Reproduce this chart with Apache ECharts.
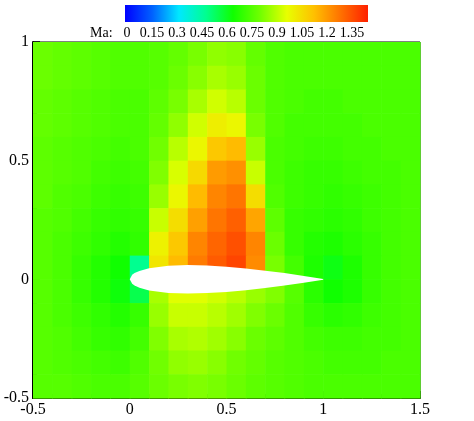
<!DOCTYPE html>
<html><head><meta charset="utf-8">
<script src="https://cdn.jsdelivr.net/npm/echarts@6/dist/echarts.min.js"></script>
<style>html,body{margin:0;padding:0;background:#fff}#c{width:474px;height:421px}</style>
</head><body><div id="c"></div>
<script>
// cell lower-left corners, step 0.1
var xCells = [-0.5,-0.4,-0.3,-0.2,-0.1,0,0.1,0.2,0.3,0.4,0.5,0.6,0.7,0.8,0.9,1.0,1.1,1.2,1.3,1.4];
var yCells = [0.9,0.8,0.7,0.6,0.5,0.4,0.3,0.2,0.1,0.0,-0.1,-0.2,-0.3,-0.4,-0.5];
var mach = [
[.74,.73,.72,.71,.70,.70,.71,.73,.76,.79,.78,.73,.70,.69,.69,.69,.69,.69,.69,.69],
[.74,.73,.72,.71,.70,.70,.71,.74,.78,.82,.80,.74,.70,.69,.69,.69,.69,.69,.69,.69],
[.73,.72,.71,.70,.69,.69,.72,.76,.82,.87,.84,.74,.70,.69,.68,.68,.69,.69,.69,.69],
[.73,.72,.71,.70,.69,.69,.73,.79,.87,.94,.92,.76,.70,.68,.68,.68,.68,.69,.69,.69],
[.72,.71,.70,.69,.68,.69,.75,.84,.92,1.03,1.06,.80,.69,.68,.67,.67,.68,.68,.69,.69],
[.72,.71,.70,.68,.67,.68,.77,.88,.99,1.12,1.14,.86,.69,.67,.66,.66,.67,.68,.68,.69],
[.72,.70,.69,.67,.66,.67,.80,.92,1.06,1.16,1.19,.98,.70,.67,.66,.65,.66,.67,.68,.69],
[.71,.70,.68,.66,.65,.66,.86,.98,1.11,1.19,1.23,1.10,.72,.66,.65,.64,.65,.67,.68,.69],
[.71,.69,.67,.65,.63,.65,.93,1.03,1.16,1.22,1.26,1.16,.74,.66,.63,.62,.64,.66,.68,.69],
[.71,.69,.66,.63,.60,.45,.96,1.06,1.18,1.24,1.28,1.15,.76,.68,.62,.58,.62,.66,.68,.69],
[.71,.69,.66,.63,.59,.52,.82,.89,.89,.87,.84,.80,.77,.71,.64,.60,.62,.66,.68,.69],
[.71,.69,.67,.65,.63,.66,.80,.86,.86,.84,.81,.77,.74,.70,.66,.64,.65,.67,.68,.69],
[.71,.70,.68,.66,.65,.68,.77,.82,.83,.81,.78,.74,.72,.70,.68,.67,.67,.68,.68,.69],
[.71,.70,.69,.68,.67,.70,.75,.79,.80,.78,.75,.73,.71,.70,.69,.68,.68,.68,.69,.69],
[.71,.71,.70,.69,.69,.71,.74,.76,.77,.76,.74,.72,.71,.70,.69,.69,.69,.69,.69,.69]
];
var airfoilX = [0,0.0125,0.025,0.05,0.1,0.2,0.3,0.4,0.5,0.6,0.7,0.8,0.9,1.0];
var airfoilUpper = [0,0.0189,0.0262,0.0355,0.0468,0.0574,0.060,0.058,0.0529,0.0456,0.0366,0.0262,0.0145,0.0013];
var airfoilLower = [0,-0.0189,-0.0262,-0.0355,-0.0468,-0.0574,-0.060,-0.058,-0.0529,-0.0456,-0.0366,-0.0262,-0.0145,-0.0013];
var barLabels = ['0','0.15','0.3','0.45','0.6','0.75','0.9','1.05','1.2','1.35'];
var colors = ['#0000ff','#0060ff','#00e8ff','#00ff90','#10ff00','#70ff00','#e8ff00','#ffc000','#ff7000','#ff2000'];

var cells = [];
yCells.forEach(function(y,i){ xCells.forEach(function(x,j){ cells.push([x,y,mach[i][j]]); }); });
var poly = [];
airfoilX.forEach(function(x,i){ poly.push([x,airfoilUpper[i]]); });
for (var i=airfoilX.length-1;i>=0;i--) poly.push([airfoilX[i],airfoilLower[i]]);

var chart = echarts.init(document.getElementById('c'));
var barL=125, barR=368, barW=barR-barL;
var graphics = [{type:'rect',shape:{x:barL,y:5,width:barW,height:17},
  style:{fill:new echarts.graphic.LinearGradient(0,0,1,0,colors.map(function(c,i){return {offset:i/(colors.length-1),color:c};}))}},
  {type:'text',x:90,y:26,style:{text:'Ma:',font:'14px "Liberation Serif"',fill:'#000'}}];
var lblL=127, lblR=352;
barLabels.forEach(function(t,i){
  graphics.push({type:'text',x:lblL+(lblR-lblL)*i/(barLabels.length-1),y:26,
    style:{text:t,font:'14px "Liberation Serif"',fill:'#000',align:'center'}});
});
var axisCommon = {axisLine:{show:true,onZero:false,lineStyle:{color:'#000',width:2}},
  axisTick:{inside:true,length:7,lineStyle:{color:'#000',width:1.5}},
  minorTick:{show:true,splitNumber:5,length:4,lineStyle:{color:'#000'}},
  splitLine:{show:false},
  axisLabel:{color:'#000',fontFamily:'Liberation Serif',fontSize:16,margin:4}};
chart.setOption({
  animation:false,
  graphic:graphics,
  grid:{left:33,right:54,top:42,bottom:23,show:true,borderColor:'#000',borderWidth:1},
  xAxis:Object.assign({type:'value',min:-0.5,max:1.5,interval:0.5},axisCommon),
  yAxis:Object.assign({type:'value',min:-0.5,max:1,interval:0.5},axisCommon),
  visualMap:{show:false,type:'continuous',min:0,max:1.35,seriesIndex:0,dimension:2,inRange:{color:colors}},
  series:[
    {type:'custom',data:cells,renderItem:function(params,api){
      var p0=api.coord([api.value(0),api.value(1)+0.1]);
      var p1=api.coord([api.value(0)+0.1,api.value(1)]);
      return {type:'rect',shape:{x:p0[0],y:p0[1],width:p1[0]-p0[0]+0.6,height:p1[1]-p0[1]+0.6},
        style:{fill:api.visual('color')}};
    }},
    {type:'custom',data:[0],renderItem:function(params,api){
      return {type:'polygon',shape:{points:poly.map(function(p){return api.coord(p);})},style:{fill:'#fff'}};
    },z:5}
  ]
});
</script></body></html>
